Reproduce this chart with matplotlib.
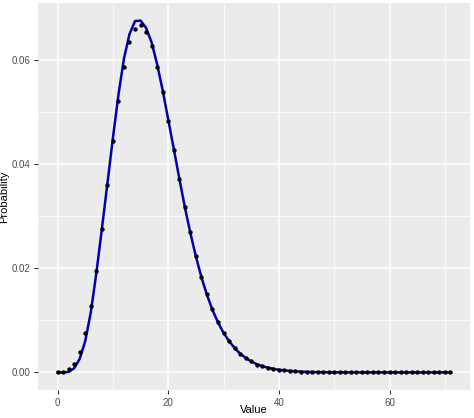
import matplotlib
matplotlib.use("Agg")
import matplotlib.pyplot as plt
import numpy as np

values = list(range(0, 72))

point_prob = [0.0000, 0.0001, 0.0007, 0.0017, 0.0039, 0.0076, 0.0128, 0.0195, 0.0275, 0.0360,
              0.0445, 0.0522, 0.0587, 0.0634, 0.0660, 0.0667, 0.0655, 0.0628, 0.0587, 0.0539,
              0.0484, 0.0427, 0.0372, 0.0318, 0.0270, 0.0224, 0.0184, 0.0151, 0.0121, 0.0097,
              0.0076, 0.0060, 0.0047, 0.0036, 0.0028, 0.0021, 0.0015, 0.0012, 0.0009, 0.0007,
              0.0005, 0.0004, 0.0003, 0.0002, 0.00015, 0.0001, 0.00008, 0.00006, 0.00004, 0.00003,
              0.00002, 0.00002, 0.00001, 0.00001, 0.00001, 0.0, 0.0, 0.0, 0.0, 0.0,
              0.0, 0.0, 0.0, 0.0, 0.0, 0.0, 0.0, 0.0, 0.0, 0.0,
              0.0, 0.0]

line_prob = [0.0000, 0.0000, 0.0001, 0.0008, 0.0026, 0.0060, 0.0115, 0.0190, 0.0275, 0.0362,
             0.0450, 0.0533, 0.0603, 0.0650, 0.0675, 0.0676, 0.0662, 0.0634, 0.0592, 0.0542,
             0.0486, 0.0430, 0.0373, 0.0318, 0.0268, 0.0223, 0.0183, 0.0149, 0.0120, 0.0096,
             0.0076, 0.0060, 0.0047, 0.0036, 0.0028, 0.0021, 0.0016, 0.0012, 0.0009, 0.0007,
             0.0005, 0.0004, 0.0003, 0.0002, 0.00015, 0.0001, 0.00007, 0.00005, 0.00004, 0.00003,
             0.00002, 0.00001, 0.00001, 0.00001, 0.0, 0.0, 0.0, 0.0, 0.0, 0.0,
             0.0, 0.0, 0.0, 0.0, 0.0, 0.0, 0.0, 0.0, 0.0, 0.0,
             0.0, 0.0]

x_major = [0, 20, 40, 60]
x_minor = [10, 30, 50, 70]
y_major = [0.00, 0.02, 0.04, 0.06]
y_minor = [0.01, 0.03, 0.05]
y_labels = ["0.00", "0.02", "0.04", "0.06"]

plt.rcParams['font.family'] = ['Liberation Sans', 'DejaVu Sans']

fig = plt.figure(figsize=(4.74, 4.18), dpi=100)
ax = fig.add_axes([0.080, 0.067, 0.9116, 0.9258])
ax.set_facecolor('#EBEBEB')
for s in ax.spines.values():
    s.set_visible(False)

ax.set_xticks(x_major)
ax.set_xticks(x_minor, minor=True)
ax.set_yticks(y_major)
ax.set_yticks(y_minor, minor=True)
ax.set_yticklabels(y_labels)
ax.grid(which='major', color='white', linewidth=1.1)
ax.grid(which='minor', color='white', linewidth=0.55)
ax.set_axisbelow(True)
ax.tick_params(which='major', direction='out', length=3, width=0.8, color='#333333',
               labelsize=7, labelcolor='#4D4D4D', pad=2.5)
ax.tick_params(which='minor', length=0)

ax.plot(values, line_prob, color='#0000B0', linewidth=1.8, zorder=2)
ax.scatter(values, point_prob, s=10, color='black', zorder=3, linewidths=0)

xr = max(values) - min(values)
ax.set_xlim(min(values) - 0.05 * xr, max(values) + 0.05 * xr)
ymax = max(max(line_prob), max(point_prob))
ax.set_ylim(-0.05 * ymax, ymax * 1.05)

ax.set_xlabel('Value', fontsize=8)
ax.set_ylabel('Probability', fontsize=8)
ax.xaxis.set_label_coords(0.5, -0.039)
ax.yaxis.set_label_coords(-0.066, 0.5)

fig.savefig('out.png', dpi=100)
